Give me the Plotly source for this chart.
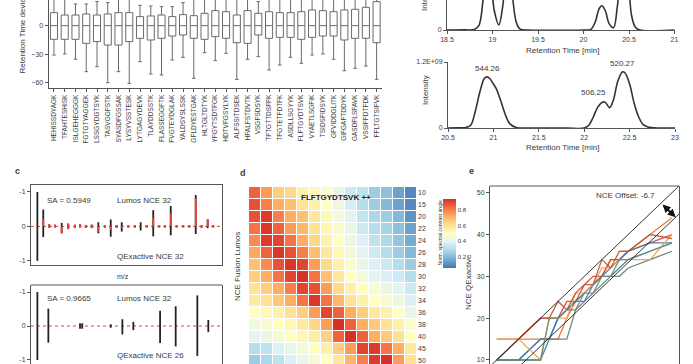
import plotly.graph_objects as go

W, H = 693, 364
def fx(px): return px / W
def fy(py): return 1 - py / H

FONT = "Arial, Liberation Sans, sans-serif"
TXT = "#3a3a3a"
AX = "#555555"

# ---------------- Panel a: retention time deviation boxes ----------------
peptides = ["HEHISSDYAGK", "TFAHTESHISK", "ISLGEHEGGGK", "FGTGTYAGGEK", "LSSGYDGTSYK",
            "TASVGGFSTK", "SYASDFGSSAK", "LYSYVSSTESK", "LYTGAGYDEVK", "TLAYDDSSTK",
            "FLASSEGGFTK", "FVGTEYDGLAK", "YALDSYSLSSK", "GFLDYESTGAK", "HLTGLTDTYK",
            "YFGYTSDTFGK", "HDTVFGSYLYK", "ALFSSITDSEK", "HFALFSTDVTK", "VSGFSDSYK",
            "TFTGTTDSFFK", "TFGTETFDTFK", "ASDLLSGYYK", "FLFTGYDTSVK", "VYAETLSGFIK",
            "TSIDSFIDSYK", "GFVIDDGLITK", "GIFGAFTDDYK", "GASDFLSFAVK", "VSSIFFDTFDK",
            "FFLTGTSIFVK"]
box_q3 = [13.7, 11.2, 11.2, 12.3, 11.2, 12.3, 13.7, 13.7, 9.5, 10.2, 11.2, 9.5, 11.6, 10.5, 13.0,
          15.8, 14.7, 11.2, 15.8, 13.0, 14.7, 13.7, 13.7, 14.7, 16.5, 15.8, 14.7, 16.5, 17.2, 19.3, 25.3]
box_q1 = [-14.4, -14.4, -14.4, -18.6, -16.8, -20.4, -20.4, -16.8, -13.3, -15.1, -13.3, -10.9, -9.8, -13.3, -14.4,
          -11.6, -13.3, -17.9, -18.6, -9.8, -13.3, -12.3, -12.3, -14.4, -12.3, -10.9, -10.9, -15.1, -13.3, -13.3, -17.9]
box_med = [0] * 31
box_low = [-30.9, -29.8, -35.4, -48.4, -43.2, -60.0, -48.4, -60.7, -37.9, -50.9, -51.9, -36.1, -33.3, -55.4, -28.4,
           -36.8, -29.1, -56.5, -35.4, -32.6, -46.7, -41.4, -33.3, -39.6, -30.9, -29.8, -35.4, -47.4, -44.9, -42.5, -56.5]
box_high = [32, 30, 22.8, 22.8, 25.3, 24.2, 33, 30, 21.4, 20.7, 20.0, 20.0, 24.2, 30, 32,
            35, 33, 29, 35, 25.3, 33, 32, 30, 32, 34, 34, 33, 36, 36, 38, 45]

# ---------------- Panel b: chromatograms ----------------
rt_top = [18.5, 18.7, 18.8, 18.85, 18.9, 18.94, 18.98, 19.02, 19.07, 19.11, 19.15, 19.18, 19.22, 19.26,
          19.3, 19.4, 20.0, 20.08, 20.13, 20.17, 20.2, 20.24, 20.28, 20.33, 20.37, 20.41, 20.45, 20.5,
          20.53, 20.57, 20.62, 21.0]
int_top = [0, 0.002e9, 0.01e9, 0.08e9, 0.6e9, 1.1e9, 0.9e9, 0.35e9, 0.09e9, 0.4e9, 1.0e9, 1.1e9, 0.6e9, 0.15e9,
           0.02e9, 0, 0, 0.01e9, 0.15e9, 0.38e9, 0.44e9, 0.35e9, 0.12e9, 0.04e9, 0.4e9, 1.0e9, 1.2e9, 0.7e9,
           0.25e9, 0.05e9, 0, 0]
rt_bot = [20.5, 20.6, 20.7, 20.75, 20.8, 20.85, 20.9, 20.93, 20.96, 21.0, 21.03, 21.08, 21.13, 21.18,
          21.25, 21.4, 21.8, 22.0, 22.05, 22.1, 22.15, 22.2, 22.23, 22.28, 22.32, 22.37, 22.42, 22.45,
          22.5, 22.55, 22.6, 22.65, 22.7, 22.8, 23.0]
int_bot = [0, 0.005e9, 0.01e9, 0.05e9, 0.3e9, 0.65e9, 0.9e9, 0.93e9, 0.9e9, 0.8e9, 0.72e9, 0.5e9, 0.25e9, 0.08e9,
           0.01e9, 0, 0, 0, 0.05e9, 0.2e9, 0.38e9, 0.47e9, 0.47e9, 0.37e9, 0.5e9, 0.85e9, 1.02e9, 1.0e9,
           0.8e9, 0.45e9, 0.2e9, 0.06e9, 0.02e9, 0, 0]
peak_labels = ["544.26", "506.25", "520.27"]
peak_rt = [20.93, 22.2, 22.42]

# ---------------- Panel c: mirror spectra ----------------
mz1 = [40, 77, 115, 151, 193, 234, 276, 308, 344, 381, 423, 465, 501, 538, 570, 611, 653, 689, 727, 768,
       806, 842, 878, 915, 957, 995, 1035, 1072, 1110, 1145]
lumos1 = [1.0, 0.49, 0.06, 0.05, 0.1, 0.08, 0.05, 0.06, 0.04, 0.05, 0.12, 0.04, 0.2, 0.04, 0.12, 0.03, 0.03,
          0.12, 0.04, 0.47, 0.03, 0.03, 0.59, 0.03, 0.03, 0.03, 0.91, 0.04, 0.2, 0.03]
qe1 = [1.0, 0.31, 0.04, 0.03, 0.2, 0.08, 0.05, 0.03, 0.04, 0.05, 0.2, 0.04, 0.3, 0.04, 0.15, 0.03, 0.03,
       0.12, 0.03, 0.29, 0.03, 0.03, 0.26, 0.03, 0.03, 0.03, 0.22, 0.04, 0.05, 0.03]
red1_lo = [0, 0, -0.04, -0.03, -0.2, -0.08, -0.05, -0.03, -0.04, -0.05, -0.15, -0.04, -0.1, -0.04, -0.05, -0.03,
           -0.03, 0, -0.03, 0, -0.03, -0.03, 0, -0.03, -0.03, -0.03, 0, -0.04, 0, -0.03]
red1_hi = [0, 0.22, 0.06, 0.05, 0, 0.08, 0.05, 0.06, 0.04, 0.05, 0, 0.04, 0, 0.04, 0, 0.03, 0.03, 0.02, 0.04,
           0.25, 0.03, 0.03, 0.37, 0.03, 0.03, 0.03, 0.81, 0.04, 0.2, 0.03]
mz2 = [40, 109, 308, 322, 501, 574, 643, 811, 909, 1045, 1114]
lumos2 = [1.0, 0.51, 0.08, 0.08, 0.05, 0.2, 0.12, 0.45, 0.58, 0.9, 0.18]
qe2 = [1.0, 0.49, 0.08, 0.08, 0.05, 0.25, 0.12, 0.5, 0.6, 0.88, 0.18]

# ---------------- Panel d: heatmap ----------------
nce_lumos = ["10", "15", "20", "22", "24", "26", "28", "30", "32", "34", "36", "38", "40", "45", "50"]
nce_qe = ["10", "15", "20", "22", "24", "26", "28", "30", "32", "34", "36", "38", "40", "45"]
sa_matrix = [
    [0.85, 0.75, 0.65, 0.62, 0.55, 0.52, 0.48, 0.42, 0.35, 0.32, 0.25, 0.22, 0.15, 0.10],
    [0.88, 0.80, 0.72, 0.68, 0.60, 0.55, 0.50, 0.44, 0.37, 0.30, 0.25, 0.20, 0.15, 0.10],
    [0.88, 0.92, 0.80, 0.72, 0.68, 0.58, 0.52, 0.45, 0.40, 0.33, 0.28, 0.25, 0.20, 0.12],
    [0.82, 0.93, 0.85, 0.75, 0.70, 0.60, 0.53, 0.47, 0.42, 0.35, 0.30, 0.27, 0.22, 0.15],
    [0.78, 0.92, 0.90, 0.82, 0.72, 0.63, 0.55, 0.50, 0.43, 0.38, 0.32, 0.28, 0.23, 0.17],
    [0.73, 0.85, 0.93, 0.88, 0.80, 0.68, 0.58, 0.52, 0.46, 0.40, 0.35, 0.30, 0.25, 0.20],
    [0.68, 0.78, 0.88, 0.93, 0.90, 0.75, 0.62, 0.55, 0.48, 0.42, 0.38, 0.35, 0.30, 0.25],
    [0.65, 0.72, 0.82, 0.90, 0.95, 0.82, 0.68, 0.58, 0.50, 0.45, 0.40, 0.38, 0.35, 0.30],
    [0.60, 0.65, 0.72, 0.80, 0.90, 0.88, 0.75, 0.62, 0.55, 0.50, 0.47, 0.43, 0.40, 0.35],
    [0.57, 0.60, 0.66, 0.72, 0.82, 0.93, 0.82, 0.70, 0.60, 0.55, 0.50, 0.47, 0.44, 0.38],
    [0.50, 0.52, 0.55, 0.60, 0.65, 0.75, 0.90, 0.85, 0.72, 0.65, 0.58, 0.55, 0.50, 0.42],
    [0.45, 0.47, 0.50, 0.53, 0.57, 0.63, 0.75, 0.95, 0.85, 0.72, 0.66, 0.60, 0.55, 0.48],
    [0.40, 0.43, 0.46, 0.50, 0.53, 0.56, 0.64, 0.85, 0.95, 0.85, 0.72, 0.66, 0.60, 0.50],
    [0.30, 0.32, 0.38, 0.42, 0.45, 0.50, 0.55, 0.65, 0.75, 0.90, 0.92, 0.82, 0.72, 0.58],
    [0.25, 0.28, 0.32, 0.38, 0.42, 0.46, 0.50, 0.58, 0.70, 0.80, 0.92, 0.95, 0.75, 0.60],
]
heat_colors = ["#4575b4", "#74add1", "#abd9e9", "#e0f3f8", "#ffffbf", "#fee090", "#fdae61", "#f46d43", "#d73027"]

# ---------------- Panel e: NCE calibration lines ----------------
nce_x = [10, 15, 20, 22, 24, 26, 28, 30, 32, 34, 36, 38, 40, 45, 50]
nce_lines = [
    [15, 15, 15, 15, 15, 20, 24, 26, 28, 30, 34, 34, 36, 40, 44],
    [10, 15, 20, 20, 20, 24, 24, 28, 30, 30, 34, 34, 36, 38, 40],
    [10, 10, 10, 15, 20, 22, 24, 26, 28, 30, 30, 32, 34, 36, 38],
    [10, 10, 15, 15, 15, 15, 22, 24, 26, 28, 30, 30, 32, 34, 36],
    [10, 10, 15, 15, 20, 22, 24, 24, 28, 30, 32, 34, 36, 38, 38],
    [15, 15, 10, 20, 20, 20, 26, 26, 28, 32, 32, 34, 34, 34, 40],
    [10, 15, 20, 20, 24, 22, 26, 28, 28, 34, 32, 36, 36, 40, 39],
    [10, 10, 10, 20, 20, 22, 22, 26, 26, 30, 30, 34, 34, 36, 38],
]
line_colors = ["#e8702a", "#d9432f", "#2f7f93", "#5b7f6f", "#3c78b5", "#f0a04b", "#c2522d", "#6f8a78"]
nce_offset = -6.7
diag_x = [8.47, 51.6]

fig = go.Figure()

# a
fig.add_trace(go.Box(x=peptides, q1=box_q1, median=box_med, q3=box_q3, lowerfence=box_low,
                     upperfence=box_high, boxpoints=False, fillcolor="white",
                     line=dict(color="#6a6a6a", width=1), width=0.66, whiskerwidth=0.5,
                     xaxis="x", yaxis="y", showlegend=False))

# b
fig.add_trace(go.Scatter(x=rt_top, y=int_top, mode="lines", line=dict(color="#333", width=1.6, shape="spline"),
                         xaxis="x2", yaxis="y2", showlegend=False))
fig.add_trace(go.Scatter(x=rt_bot, y=int_bot, mode="lines", line=dict(color="#333", width=1.6, shape="spline"),
                         xaxis="x3", yaxis="y3", showlegend=False))

# c
def segs(xs, lo, hi):
    X, Y = [], []
    for x, a, b in zip(xs, lo, hi):
        X += [x, x, None]
        Y += [a, b, None]
    return X, Y

bx, by = segs(mz1, [-q for q in qe1], lumos1)
fig.add_trace(go.Scatter(x=bx, y=by, mode="lines", line=dict(color="#222", width=1.8),
                         xaxis="x4", yaxis="y4", showlegend=False))
rx, ry = segs(mz1, red1_lo, red1_hi)
fig.add_trace(go.Scatter(x=rx, y=ry, mode="lines", line=dict(color="#e8423c", width=2),
                         xaxis="x4", yaxis="y4", showlegend=False))
bx2, by2 = segs(mz2, [-q for q in qe2], lumos2)
fig.add_trace(go.Scatter(x=bx2, y=by2, mode="lines", line=dict(color="#222", width=1.8),
                         xaxis="x5", yaxis="y5", showlegend=False))

# d
cs = [[i / (len(heat_colors) - 1), c] for i, c in enumerate(heat_colors)]
fig.add_trace(go.Heatmap(z=sa_matrix, x=nce_qe, y=nce_lumos, colorscale=cs,
                         zmin=0.06, zmax=0.94, xgap=1, ygap=1, xaxis="x6", yaxis="y6",
                         colorbar=dict(x=fx(433), xanchor="left", y=fy(189), yanchor="top",
                                       lenmode="pixels", len=89, thickness=13, outlinewidth=0,
                                       tickvals=[0.2, 0.4, 0.6, 0.8], ticks="",
                                       tickfont=dict(size=6, color=TXT, family=FONT))))

# e
for ys, c in zip(nce_lines, line_colors):
    fig.add_trace(go.Scatter(x=nce_x, y=ys, mode="lines", line=dict(color=c, width=1.3),
                             opacity=0.9, xaxis="x7", yaxis="y7", showlegend=False))
fig.add_trace(go.Scatter(x=diag_x, y=diag_x, mode="lines", line=dict(color="#333", width=1),
                         xaxis="x7", yaxis="y7", showlegend=False))
fig.add_trace(go.Scatter(x=diag_x, y=[v + nce_offset for v in diag_x], mode="lines",
                         line=dict(color="#333", width=1), xaxis="x7", yaxis="y7", showlegend=False))

tf = dict(size=7, color=TXT, family=FONT)
common = dict(showgrid=False, zeroline=False, automargin=False, linecolor=AX, tickcolor=AX,
              ticklen=3, tickfont=tf)

layout = dict(
    width=W, height=H, margin=dict(l=0, r=0, t=0, b=0), paper_bgcolor="white", plot_bgcolor="white",
    font=dict(family=FONT, color=TXT), showlegend=False,
    xaxis=dict(domain=[fx(48.6), fx(382)], anchor="y", range=[-0.5, 30.5], tickangle=-90,
               showline=True, ticks="outside", **{**common, "tickfont": dict(size=6.5, color=TXT, family=FONT)}),
    yaxis=dict(domain=[fy(88), 1], anchor="x", range=[-65.6, 27], tickvals=[-60, -30, 0, 30],
               showline=True, ticks="outside", **common),
    xaxis2=dict(domain=[fx(447), fx(674.5)], anchor="y2", range=[18.5, 21],
                tickvals=[18.5, 19, 19.5, 20, 20.5, 21], showline=True, ticks="outside", **common),
    yaxis2=dict(domain=[fy(30), 1], anchor="x2", range=[0, 0.545e9], tickvals=[0], ticktext=["0"],
                showline=True, ticks="outside", **common),
    xaxis3=dict(domain=[fx(448), fx(675)], anchor="y3", range=[20.5, 23],
                tickvals=[20.5, 21, 21.5, 22, 22.5, 23], showline=True, ticks="outside", **common),
    yaxis3=dict(domain=[fy(128), fy(62)], anchor="x3", range=[0, 1.2e9], tickvals=[0, 1.2e9],
                ticktext=["0", "1.2E+09"], showline=True, ticks="outside", **common),
    xaxis4=dict(domain=[fx(31), fx(222)], anchor="y4", range=[0, 1200], showticklabels=False,
                showline=True, mirror=True, ticks="", **common),
    yaxis4=dict(domain=[fy(265), fy(185)], anchor="x4", range=[-1.12, 1.2], tickvals=[-1, 0, 1],
                ticktext=["-1", "0", "-1"], showline=True, mirror=True, ticks="outside", **common),
    xaxis5=dict(domain=[fx(31), fx(222)], anchor="y5", range=[0, 1200], showticklabels=False,
                showline=False, ticks="", **common),
    yaxis5=dict(domain=[0, fy(285)], anchor="x5", range=[-1.118, 1.206], tickvals=[-1, 0, 1],
                ticktext=["-1", "0", "-1"], showline=True, mirror=True, ticks="outside", **common),
    xaxis6=dict(domain=[fx(249), fx(417)], anchor="y6", range=[-0.5, 13.5], type="category",
                showticklabels=False, showline=False, ticks="", **common),
    yaxis6=dict(domain=[0, fy(187)], anchor="x6", range=[14.25, -0.5], type="category", side="right",
                showline=False, ticks="", **common),
    xaxis7=dict(domain=[fx(490), fx(679)], anchor="y7", range=diag_x, showticklabels=False,
                showline=False, ticks="", **common),
    yaxis7=dict(domain=[0, fy(186)], anchor="x7", range=[9.04, 51.6], tickvals=[10, 20, 30, 40, 50],
                showline=True, mirror=True, ticks="outside", **common),
)
fig.update_layout(**layout)

shapes = [
    dict(type="line", xref="paper", yref="paper", x0=fx(31), x1=fx(222), y0=fy(285), y1=fy(285),
         line=dict(color=AX, width=1)),
    dict(type="line", xref="paper", yref="paper", x0=fx(490), x1=fx(679), y0=fy(186), y1=fy(186),
         line=dict(color=AX, width=1)),
    dict(type="line", xref="x4 domain", yref="y4", x0=0, x1=1, y0=0, y1=0,
         line=dict(color="#e8423c", width=1, dash="dot"), layer="below"),
    dict(type="line", xref="x5 domain", yref="y5", x0=0, x1=1, y0=0, y1=0,
         line=dict(color="#e8423c", width=1, dash="dot"), layer="below"),
]
fig.update_layout(shapes=shapes)

def ann(text, px, py, size=8, angle=0, xa="center", ya="middle", bold=False, color=TXT):
    return dict(text=f"<b>{text}</b>" if bold else text, x=fx(px), y=fy(py), xref="paper", yref="paper",
                showarrow=False, textangle=angle, xanchor=xa, yanchor=ya,
                font=dict(size=size, color=color, family=FONT))

anns = [
    ann("Retention Time deviation [s]", 22, 76, 8, -90, ya="bottom"),
    ann("Intensity", 425, 13, 8, -90, ya="bottom"),
    ann("Intensity", 425, 90, 8, -90),
    ann("Retention Time [min]", 562, 51, 8),
    ann("Retention Time [min]", 562, 147, 8),
    ann("506.25", 601, 3, 8, ya="bottom"),
    ann("c", 17, 171, 9, bold=True),
    ann("SA = 0.5949", 45, 200, 8, xa="left"),
    ann("Lumos NCE 32", 115, 200, 8, xa="left"),
    ann("QExactive NCE 32", 115, 256, 8, xa="left"),
    ann("m/z", 123, 276, 7),
    ann("SA = 0.9665", 45, 298, 8, xa="left"),
    ann("Lumos NCE 32", 115, 298, 8, xa="left"),
    ann("QExactive NCE 26", 115, 355, 8, xa="left"),
    ann("d", 243, 173, 9, bold=True),
    ann("FLFTGYDTSVK ++", 336, 197, 8, bold=True, color="#222"),
    ann("NCE Fusion Lumos", 237, 267, 8, -90),
    ann("Norm. spectral contrast angle", 439.5, 233, 5, -90, color="#333"),
    ann("e", 471, 171, 9, bold=True),
    ann("NCE Offset: -6.7", 657, 195, 8, xa="right"),
    ann("NCE QExactive", 468, 282, 8, -90),
]
anns.append(dict(text=peak_labels[0], x=peak_rt[0], y=0.97e9, xref="x3", yref="y3", showarrow=False,
                 yanchor="bottom", font=dict(size=8, color=TXT, family=FONT)))
anns.append(dict(text=peak_labels[1], x=peak_rt[1], y=0.52e9, xref="x3", yref="y3", showarrow=False,
                 xanchor="right", yanchor="bottom", xshift=6, font=dict(size=8, color=TXT, family=FONT)))
anns.append(dict(text=peak_labels[2], x=peak_rt[2], y=1.06e9, xref="x3", yref="y3", showarrow=False,
                 yanchor="bottom", font=dict(size=8, color=TXT, family=FONT)))
anns.append(dict(x=50.85, y=47.5 - 3.35, ax=47.5, ay=47.5, xref="x7", yref="y7", axref="x7", ayref="y7",
                 showarrow=True, arrowhead=2, arrowside="end+start", arrowwidth=2, arrowsize=0.8,
                 arrowcolor="#111", text=""))
fig.update_layout(annotations=anns)

fig.write_html("out.html", config={"displayModeBar": False},
               post_script="document.body.style.margin='0';document.body.style.overflow='hidden';")
